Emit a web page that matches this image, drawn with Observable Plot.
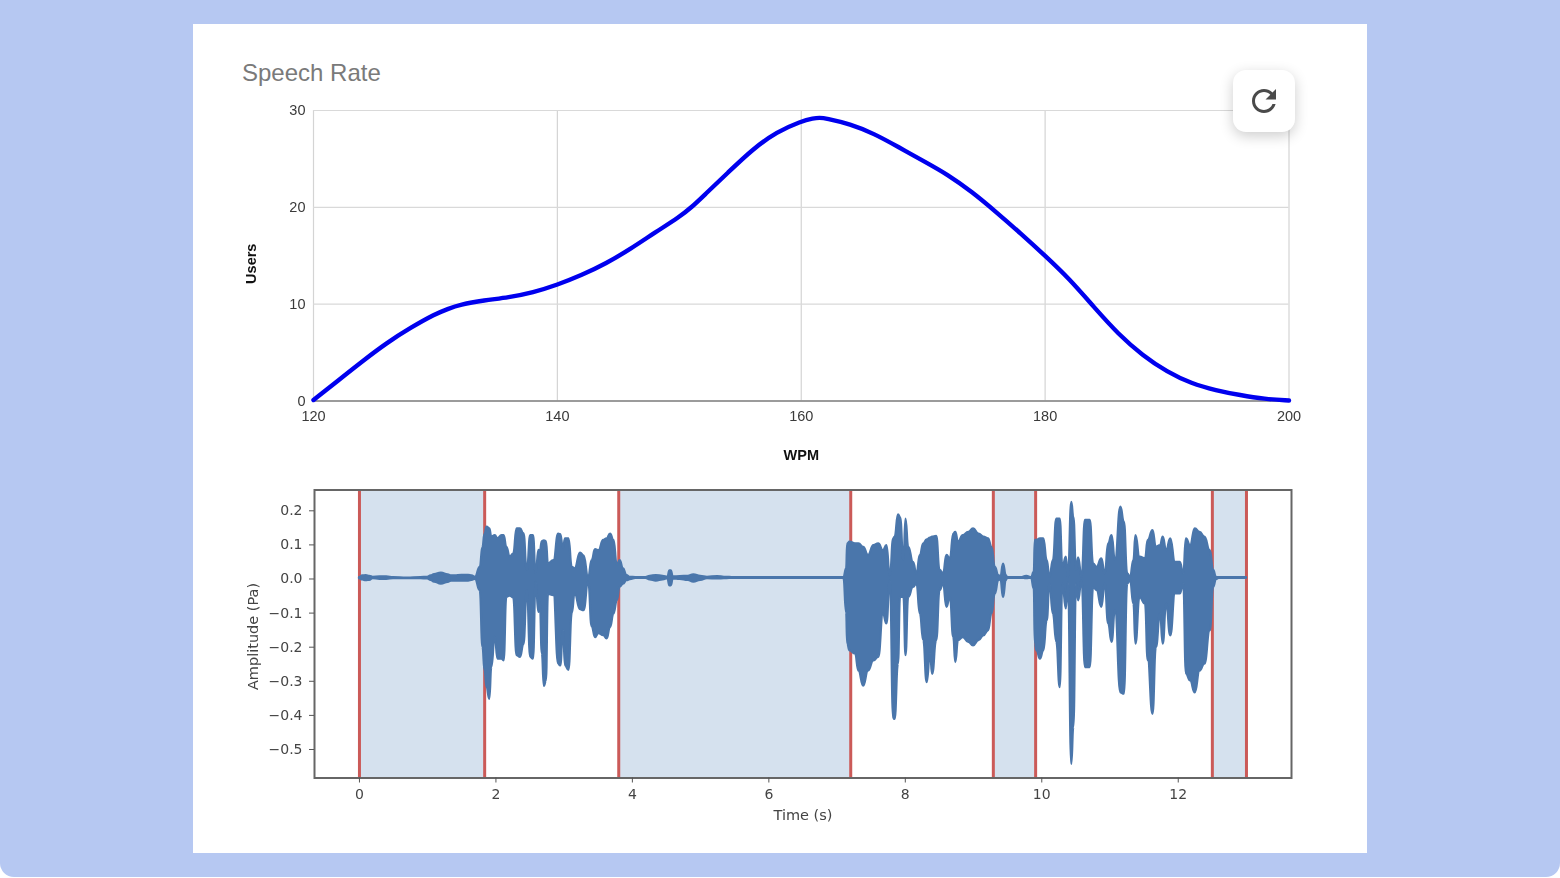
<!DOCTYPE html>
<html>
<head>
<meta charset="utf-8">
<script src="https://cdn.jsdelivr.net/npm/d3@7"></script>
<script src="https://cdn.jsdelivr.net/npm/@observablehq/plot@0.6"></script>
<style>
  html, body { margin: 0; padding: 0; width: 1560px; height: 878px; overflow: hidden; background: #fff; }
  #bg { position: absolute; left: 0; top: 0; width: 1560px; height: 877px; background: #b6c8f2; border-radius: 0 0 14px 14px; }
  #panel { position: absolute; left: 193px; top: 24px; width: 1174px; height: 829px; background: #fff; }
  #title { position: absolute; left: 242px; top: 58px; font: 24px "Liberation Sans", Arial, sans-serif; color: #7a7a7a; line-height: 29px; }
  #top, #bottom { position: absolute; left: 193px; }
  #top { top: 90px; filter: blur(0.3px); }
  #bottom { top: 480px; filter: blur(0.5px); }
  #top svg, #bottom svg { display: block; background: transparent; }
  #btn { position: absolute; left: 1233px; top: 70px; width: 62px; height: 62px; border-radius: 13px; background: #fff;
         box-shadow: 0 4px 14px rgba(0,0,0,.2); display: flex; align-items: center; justify-content: center; }
</style>
</head>
<body>
<div id="bg"></div>
<div id="panel"></div>
<div id="title">Speech Rate</div>
<div id="top"></div>
<div id="bottom"></div>
<div id="btn"><svg width="36" height="36" viewBox="0 0 24 24"><path fill="#4a4a4a" d="M17.65 6.35C16.2 4.9 14.21 4 12 4c-4.42 0-7.99 3.58-7.99 8s3.57 8 7.99 8c3.73 0 6.84-2.55 7.73-6h-2.08c-.82 2.33-3.04 4-5.65 4-3.31 0-6-2.69-6-6s2.69-6 6-6c1.66 0 3.14.69 4.22 1.78L13 11h7V4l-2.35 2.35z"/></svg></div>
<script>
// Speech rate curve
const wpm = [120,122,124,126,128,130,131,132,134,136,138,140,142,144,146,148,150,151,152,154,156,158,160,161,161.5,162,164,166,168,170,172,174,176,178,180,182,184,186,188,190,192,194,196,198,200];
const users = [0.1,2.1,4.1,6.0,7.6,9.0,9.5,9.95,10.4,10.7,11.2,12.0,13.0,14.2,15.7,17.4,19.0,20.0,21.2,23.6,26.0,27.8,28.9,29.2,29.25,29.2,28.6,27.6,26.2,24.8,23.4,21.6,19.5,17.3,15.0,12.6,9.7,6.9,4.7,3.0,1.8,1.1,0.6,0.2,0.05];
const wpmTicks = [120,140,160,180,200];
const userTicks = [0,10,20,30];

// Waveform envelope
const waveTime = [
  0,.05,.1,.15,.2,.3,.4,.5,.7,.9,
  1.0,1.05,1.1,1.2,1.3,1.35,1.4,1.5,1.6,1.65,1.7,
  1.77,1.81,1.84,1.87,1.91,1.94,1.99,2.03,2.09,2.12,
  2.16,2.21,2.26,2.31,2.36,2.41,2.46,2.51,2.55,2.59,
  2.63,2.65,2.68,2.71,2.74,2.77,2.85,2.92,2.95,2.99,
  3.02,3.07,3.12,3.16,3.24,3.29,3.36,3.41,3.46,3.51,
  3.58,3.63,3.68,3.73,3.78,3.82,3.87,3.92,3.97,
  4.05,4.2,4.26,4.35,4.45,4.52,4.55,4.57,4.6,4.7,
  4.82,4.9,5.0,5.1,5.25,5.35,5.5,7.1,
  7.14,7.155,7.19,7.27,7.32,7.39,7.46,7.54,7.61,7.68,
  7.73,7.78,7.83,7.85,7.90,7.93,7.98,8.01,8.05,8.12,
  8.17,8.22,8.27,8.32,8.37,8.40,8.46,8.51,8.56,8.61,
  8.66,8.71,8.74,8.78,8.85,8.93,9.0,9.08,9.15,9.22,
  9.27,9.32,9.37,9.40,9.44,9.48,9.5,9.7,9.78,9.85,9.89,
  9.905,9.93,9.98,10.03,10.08,10.12,10.17,10.22,10.27,10.31,
  10.36,10.39,10.44,10.47,10.51,10.54,10.59,10.64,10.71,10.76,
  10.81,10.88,10.93,10.98,11.03,11.08,11.16,11.21,11.26,11.30,
  11.35,11.38,11.44,11.52,11.56,11.63,11.68,11.74,11.78,11.83,
  11.89,11.96,12.03,12.08,12.12,12.18,12.25,12.32,12.39,12.47,
  12.52,12.56,12.6,13.0
];
const waveUpper = [
  .004,.009,.01,.008,.005,.006,.006,.004,.003,.004,
  .005,.009,.013,.017,.012,.009,.009,.011,.011,.009,.005,
  .034,.093,.132,.152,.147,.123,.127,.118,.127,.127,
  .093,.064,.073,.147,.147,.133,.025,.127,.127,.015,
  .084,.080,.110,.112,.110,.044,.054,.132,.130,.090,
  .118,.118,.034,.030,.076,.068,.005,.054,.086,.083,
  .113,.118,.132,.113,.040,.054,.030,.010,.005,
  .004,.004,.008,.010,.008,.005,.024,.024,.006,.007,
  .008,.012,.008,.005,.007,.005,.004,.004,
  .030,.103,.108,.103,.103,.093,.069,.098,.103,.083,
  .098,.010,.118,.123,.188,.180,.054,.176,.093,.049,
  .015,.069,.103,.115,.120,.123,.125,.025,.015,.069,
  .059,.132,.137,.108,.127,.137,.147,.132,.123,.118,
  .093,.034,.010,.005,.044,.010,.004,.004,.008,.004,.020,
  .113,.113,.118,.118,.054,.005,.054,.176,.176,.034,
  .064,.005,.225,.181,.025,.062,.005,.172,.172,.044,
  .034,.059,.015,.103,.127,.054,.211,.167,.015,.005,
  .054,.127,.064,.059,.113,.142,.093,.098,.123,.083,
  .118,.049,.049,.015,.118,.098,.147,.137,.123,.083,
  .025,.005,.004,.004
];
const waveLower = [
  .001,-.003,-.005,-.004,.001,-.001,-.001,.001,.001,.001,
  0,-.004,-.009,-.015,-.010,-.006,-.006,-.006,-.006,-.004,-.001,
  -.034,-.201,-.270,-.319,-.353,-.260,-.170,-.235,-.235,-.240,
  -.054,-.050,-.055,-.225,-.230,-.193,-.035,-.230,-.235,-.010,
  -.098,-.070,-.220,-.315,-.300,-.045,-.049,-.250,-.255,-.150,
  -.255,-.268,-.100,-.044,-.090,-.093,-.010,-.140,-.172,-.160,
  -.166,-.176,-.142,-.103,-.064,-.024,-.015,-.005,-.002,
  .002,.002,-.003,-.006,-.003,.001,-.020,-.020,.000,-.001,
  -.004,-.009,-.004,.001,.000,.001,.002,.002,
  -.100,-.191,-.211,-.220,-.270,-.314,-.270,-.240,-.230,-.103,
  -.132,-.005,-.410,-.412,-.250,-.054,-.054,-.225,-.054,-.025,
  -.015,-.103,-.181,-.304,-.220,-.280,-.181,-.034,-.015,-.083,
  -.054,-.172,-.245,-.181,-.172,-.186,-.196,-.181,-.167,-.152,
  -.103,-.044,-.005,-.002,-.054,-.005,.002,.002,.001,.002,-.030,
  -.191,-.211,-.235,-.211,-.123,-.015,-.103,-.186,-.319,-.015,
  -.088,-.010,-.544,-.436,-.015,-.064,-.005,-.260,-.260,-.025,
  -.034,-.083,-.015,-.132,-.186,-.093,-.334,-.338,-.015,-.005,
  -.074,-.191,-.054,-.074,-.240,-.397,-.201,-.103,-.191,-.074,
  -.167,-.044,-.044,-.015,-.279,-.299,-.334,-.270,-.250,-.152,
  -.025,-.002,.002,.002
];
const shadedStart = [0, 3.8, 9.29, 12.5];
const shadedEnd = [1.835, 7.2, 9.91, 13.0];
const boundaries = [0, 1.835, 3.8, 7.2, 9.29, 9.91, 12.5, 13.0];
const timeTicks = [0,2,4,6,8,10,12];
const ampTicks = [-0.5,-0.4,-0.3,-0.2,-0.1,0,0.1,0.2];

const curve = wpm.map((x, i) => ({x, y: users[i]}));
const wave = waveTime.map((t, i) => ({t, hi: waveUpper[i], lo: waveLower[i]}));
const shaded = shadedStart.map((a, i) => ({a, b: shadedEnd[i]}));

const topPlot = Plot.plot({
  width: 1174, height: 390,
  marginLeft: 120, marginRight: 78.5, marginTop: 20, marginBottom: 79.5,
  style: {fontFamily: '"Liberation Sans", Arial, sans-serif', fontSize: "14px", color: "#3a3a3a", background: "transparent"},
  x: {domain: [120, 200], label: null},
  y: {domain: [0, 30], label: null},
  marks: [
    Plot.gridX(wpmTicks, {stroke: "#d4d4d4", strokeOpacity: 1, strokeWidth: 1.2}),
    Plot.gridY(userTicks, {stroke: "#d9d9d9", strokeOpacity: 1, strokeWidth: 1.2}),
    Plot.ruleY([0], {stroke: "#808080", strokeWidth: 1.5}),
    Plot.axisX({ticks: wpmTicks, tickSize: 0, tickPadding: 10, label: null, fontSize: 14.5}),
    Plot.axisY({ticks: userTicks, tickSize: 0, tickPadding: 8, label: null, fontSize: 14.5}),
    Plot.lineY(curve, {x: "x", y: "y", stroke: "#0000ee", strokeWidth: 4.4, curve: "basis"}),
    Plot.text(["WPM"], {frameAnchor: "bottom", dy: 59, fontWeight: "bold", fontSize: 14.5, fill: "#111"}),
    Plot.text(["Users"], {frameAnchor: "left", dx: -62, dy: 8, textAnchor: "middle", rotate: -90, fontWeight: "bold", fontSize: 14.5, fill: "#111"})
  ]
});
document.getElementById("top").append(topPlot);

const bottomPlot = Plot.plot({
  width: 1174, height: 350,
  marginLeft: 121, marginRight: 76, marginTop: 9.5, marginBottom: 52.5,
  style: {fontFamily: '"DejaVu Sans", sans-serif', fontSize: "14px", color: "#444", background: "transparent"},
  x: {domain: [-0.659, 13.66], label: null},
  y: {domain: [-0.5836, 0.261], label: null},
  marks: [
    Plot.rect(shaded, {x1: "a", x2: "b", fill: "#d5e1ee"}),
    Plot.ruleX(boundaries, {stroke: "#cb5a58", strokeWidth: 3}),
    Plot.areaY(wave, {x: "t", y1: "lo", y2: "hi", fill: "#4a76ab", stroke: "#4a76ab", strokeWidth: 2.2, curve: "bump-x"}),
    Plot.frame({stroke: "#666", strokeWidth: 2}),
    Plot.axisX({ticks: timeTicks, tickSize: 5, tickPadding: 6, stroke: "#555", label: null, fontSize: 14}),
    Plot.axisY({ticks: ampTicks, tickSize: 5, tickPadding: 7, stroke: "#555", label: null, fontSize: 14, tickFormat: d3.format(".1f")}),
    Plot.text(["Time (s)"], {frameAnchor: "bottom", dy: 42, fontSize: 14.5, fill: "#444"}),
    Plot.text(["Amplitude (Pa)"], {frameAnchor: "left", dx: -61, dy: 2.5, textAnchor: "middle", rotate: -90, fontSize: 14.5, fill: "#444"})
  ]
});
document.getElementById("bottom").append(bottomPlot);
</script>
</body>
</html>
